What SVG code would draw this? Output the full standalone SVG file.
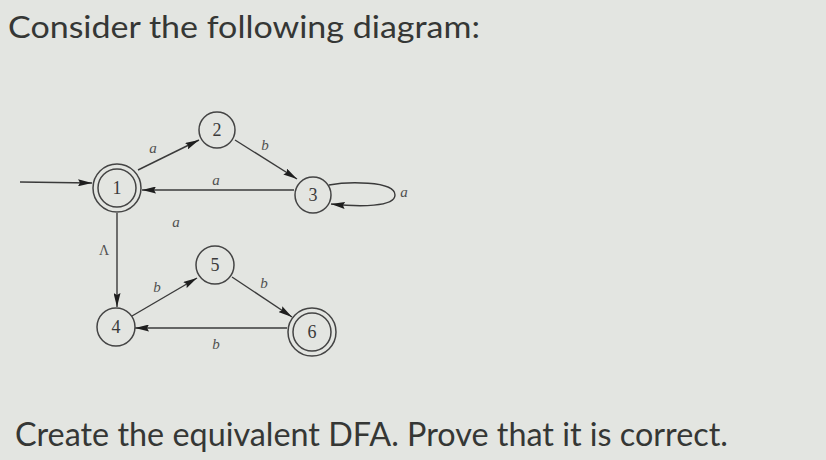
<svg xmlns="http://www.w3.org/2000/svg" width="826" height="460" viewBox="0 0 826 460">
<defs>
<style>
.bg{fill:#e3e5e1}
.title{font-family:Lato,"Liberation Sans",sans-serif;fill:#353735}
.st{fill:none;stroke:#444;stroke-width:1.5}
.num{font-family:"Liberation Serif",serif;font-size:18px;fill:#3a3a3a;text-anchor:middle}
.lbl{font-family:"Liberation Serif",serif;font-style:italic;font-size:15px;fill:#505050;text-anchor:middle}
.up{font-style:normal;font-size:14px}
.edge{fill:none;stroke:#3a3a3a;stroke-width:1.4;marker-end:url(#ah)}
</style>
<marker id="ah" viewBox="0 0 14 7" refX="14" refY="3.5" markerWidth="14" markerHeight="7" markerUnits="userSpaceOnUse" orient="auto">
<path d="M0,0 L14,3.5 L0,7 L2,3.5 Z" fill="#1e1e1e"/>
</marker>
</defs>
<rect class="bg" x="0" y="0" width="826" height="460"/>
<text class="title" x="8" y="38" font-size="30" textLength="472" lengthAdjust="spacingAndGlyphs">Consider the following diagram:</text>
<text class="title" x="15" y="446" font-size="32" textLength="713" lengthAdjust="spacingAndGlyphs">Create the equivalent DFA. Prove that it is correct.</text>
<g id="connectors">
<line class="edge" x1="20" y1="182" x2="92" y2="183"/>
<line class="edge" x1="138" y1="170" x2="199" y2="140"/>
<line class="edge" x1="235" y1="140" x2="297" y2="179"/>
<line class="edge" x1="294" y1="190" x2="142" y2="190"/>
<path class="edge" d="M329,185 C345,182 395,180 395,195 C395,207 360,207 331,204"/>
<line class="edge" x1="117" y1="213" x2="117" y2="307"/>
<line class="edge" x1="132" y1="316" x2="197" y2="278"/>
<line class="edge" x1="232" y1="277" x2="292" y2="317"/>
<line class="edge" x1="287" y1="328" x2="135" y2="328"/>
<text class="lbl" x="153" y="153">a</text>
<text class="lbl" x="265" y="150">b</text>
<text class="lbl" x="216" y="185">a</text>
<text class="lbl" x="404" y="197">a</text>
<text class="lbl" x="176" y="227">a</text>
<text class="lbl up" x="104" y="255">Λ</text>
<text class="lbl" x="157" y="292">b</text>
<text class="lbl" x="264" y="288">b</text>
<text class="lbl" x="216" y="349">b</text>
</g>
<g id="n1"><circle class="st" cx="117" cy="188" r="24"/><circle class="st" cx="117" cy="188" r="19"/><text class="num" x="117" y="194">1</text></g>
<g id="n2"><circle class="st" cx="217" cy="130" r="18"/><text class="num" x="217" y="136">2</text></g>
<g id="n3"><circle class="st" cx="313" cy="195" r="18"/><text class="num" x="313" y="201">3</text></g>
<g id="n4"><circle class="st" cx="116" cy="327" r="19"/><text class="num" x="116" y="333">4</text></g>
<g id="n5"><circle class="st" cx="215" cy="265" r="19"/><text class="num" x="215" y="271">5</text></g>
<g id="n6"><circle class="st" cx="312" cy="332" r="24"/><circle class="st" cx="312" cy="332" r="19"/><text class="num" x="312" y="338">6</text></g>
</svg>
